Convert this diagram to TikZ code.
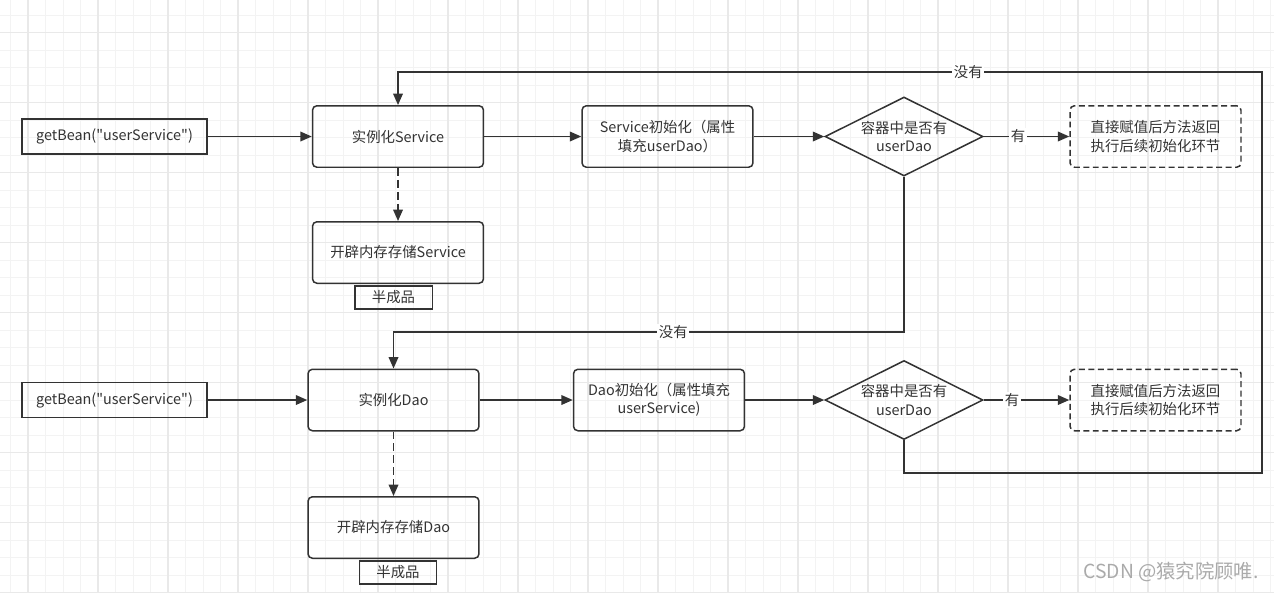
\documentclass[tikz,border=0pt]{standalone}
\usepackage{fontspec}
\setmainfont{Noto Sans CJK SC}[Ligatures=TeXOff]
\usepackage{xcolor}
\definecolor{ink}{RGB}{51,51,51}
\definecolor{gridminor}{RGB}{243,243,243}
\definecolor{gridmajor}{RGB}{233,233,233}
\definecolor{wmgray}{RGB}{170,170,170}
\usepackage{tikz}
\usetikzlibrary{arrows.meta}
\usetikzlibrary{shapes.geometric}
\newcommand{\widthcall}{3.7cm}
\newcommand{\widthproc}{3.42cm}
\newcommand{\heightproc}{1.23cm}
\newcommand{\textsize}{\fontsize{8.2}{10.3}\selectfont}
\tikzset{
    common/.style={draw=ink, text=ink, line width=0.85pt, align=center, font=\textsize, inner sep=1pt},
    call/.style={common, line width=1.1pt, minimum width=\widthcall, minimum height=0.7cm},
    proc/.style={common, rounded corners=2.5pt, minimum width=\widthproc, minimum height=\heightproc},
    done/.style={proc, dash pattern=on 3.4pt off 2pt},
    tag/.style={common, minimum width=1.55cm, minimum height=0.46cm},
    check/.style={common, diamond, aspect=2, inner sep=0pt, minimum width=3.16cm, minimum height=1.58cm},
    lbl/.style={fill=white, text=ink, font=\textsize, inner sep=1pt},
    flow/.style={ink, line width=0.85pt, -{Triangle[length=6.5pt,width=5.5pt]}}
}
\begin{document}
\begin{tikzpicture}[x=0.02cm,y=-0.02cm]
    \useasboundingbox (0,0) rectangle (1274,593);
    \draw[gridminor, line width=0.55pt] \foreach \x in {10.5,28,...,1274} {(\x,0) -- (\x,593)};
    \draw[gridminor, line width=0.55pt] \foreach \y in {15,32.5,...,593} {(0,\y) -- (1274,\y)};
    \draw[gridmajor, line width=0.8pt] \foreach \x in {28,98,...,1274} {(\x,0) -- (\x,593)};
    \draw[gridmajor, line width=0.8pt] \foreach \y in {32.5,102.5,...,593} {(0,\y) -- (1274,\y)};

    \path
        node[call] (getS) at (114.5,136.5) {getBean("userService")}
        node[proc] (iS) at (398,136.5) {实例化Service}
        node[proc] (memS) at (398,252.5) {开辟内存存储Service}
        node[tag] (halfS) at (393.5,297.5) {半成品}
        node[proc] (initS) at (667.5,136.5) {Service初始化（属性\\填充userDao）}
        node[check] (hasS) at (904,136.5) {容器中是否有\\userDao}
        node[done] (doneS) at (1155.5,136.5) {直接赋值后方法返回\\执行后续初始化环节};
    \path
        node[call] (getD) at (114.5,400) {getBean("userService")}
        node[proc] (iD) at (393.5,400) {实例化Dao}
        node[proc] (memD) at (393.5,527.5) {开辟内存存储Dao}
        node[tag] (halfD) at (398,572.5) {半成品}
        node[proc] (initD) at (659,400) {Dao初始化（属性填充\\userService)}
        node[check] (hasD) at (904,400) {容器中是否有\\userDao}
        node[done] (doneD) at (1155.5,400) {直接赋值后方法返回\\执行后续初始化环节};
    \node[wmgray, font=\fontsize{11}{13}\selectfont] (mark) at (1171,572) {CSDN @猿究院顾唯.};

    \coordinate (turnS) at (904,332);
    \coordinate (loopA) at (904,473);
    \coordinate (loopB) at (1262,473);
    \coordinate (loopC) at (1262,72);

    \draw[flow] (getS) edge (iS) (iS) edge (initS) (initS) edge (hasS) (hasS) edge node[lbl, pos=0.4] {有} (doneS);
    \draw[flow] (getD) edge (iD) (iD) edge (initD) (initD) edge (hasD) (hasD) edge node[lbl, pos=0.33] {有} (doneD);
    \draw[flow, dash pattern=on 4.5pt off 2.3pt] (iS) edge (memS) (iD) edge (memD);
    \draw[flow] (hasS.south) -- (turnS) -| node[lbl, pos=0.226] {没有} (iD.north);
    \draw[flow] (hasD.south) -- (loopA) -- (loopB) -- (loopC) -| node[lbl, pos=0.17] {没有} (iS.north);
\end{tikzpicture}
\end{document}
